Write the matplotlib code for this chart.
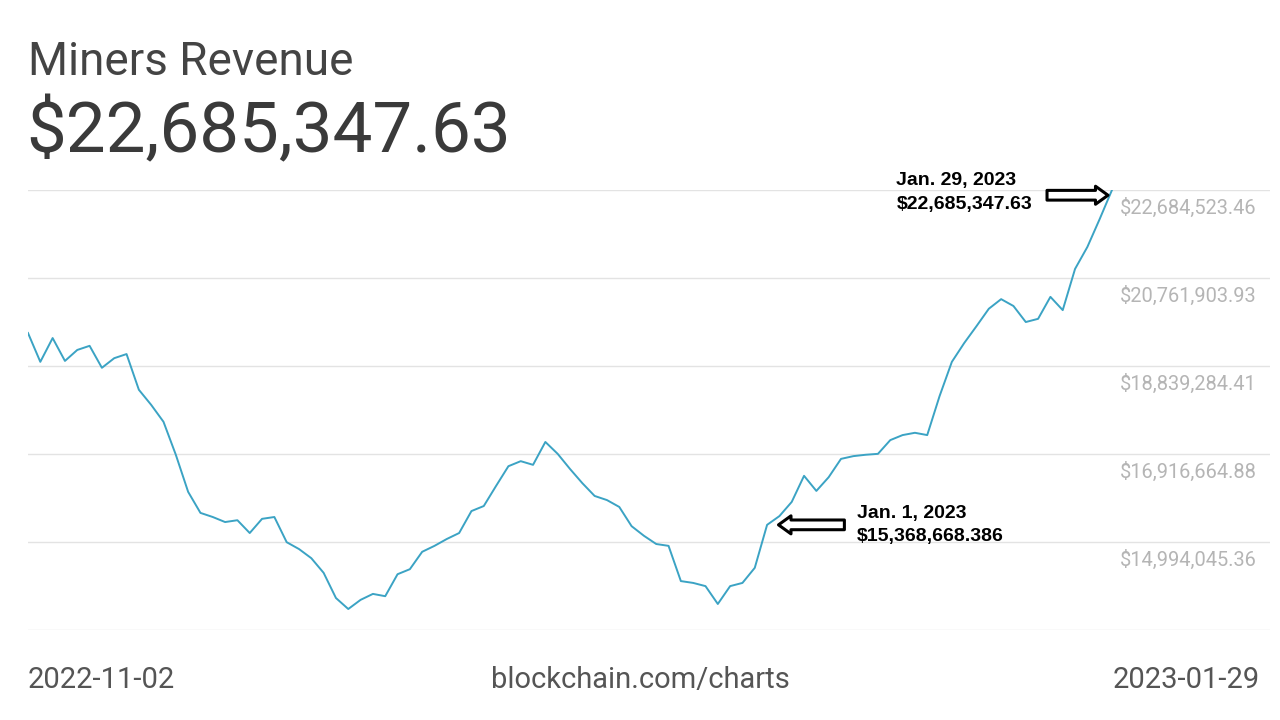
import matplotlib
matplotlib.use("Agg")
import matplotlib.pyplot as plt
import numpy as np
import pandas as pd

start_date = "2022-11-02"
end_date = "2023-01-29"
title = "Miners Revenue"
headline = "$22,685,347.63"
source = "blockchain.com/charts"
# revenue in millions USD, daily
revenue = [19.56, 18.93, 19.45, 18.95, 19.19, 19.28, 18.80, 19.01, 19.10, 18.32,
           17.99, 17.62, 16.90, 16.09, 15.63, 15.54, 15.43, 15.47, 15.19, 15.50,
           15.54, 14.99, 14.84, 14.64, 14.32, 13.77, 13.53, 13.73, 13.86, 13.81,
           14.29, 14.40, 14.78, 14.91, 15.06, 15.19, 15.67, 15.78, 16.22, 16.65,
           16.76, 16.68, 17.18, 16.92, 16.59, 16.28, 16.00, 15.91, 15.76, 15.34,
           15.13, 14.95, 14.91, 14.14, 14.10, 14.03, 13.64, 14.03, 14.10, 14.43,
           15.368668386, 15.56, 15.87, 16.44, 16.11, 16.41, 16.81, 16.87, 16.90, 16.92,
           17.22, 17.33, 17.38, 17.33, 18.18, 18.93, 19.34, 19.71, 20.09, 20.30,
           20.15, 19.80, 19.87, 20.35, 20.06, 20.96, 21.44, 22.05, 22.68534763]
tick_values = [22684523.46, 20761903.93, 18839284.41, 16916664.88, 14994045.36]
ann_labels = [("Jan. 1, 2023\n$15,368,668.386", "2023-01-01"),
              ("Jan. 29, 2023\n$22,685,347.63", "2023-01-29")]

dates = pd.date_range(start_date, periods=len(revenue), freq="D")
x = np.arange(len(revenue))
y = np.array(revenue) * 1e6

fig = plt.figure(figsize=(12.8, 7.2), dpi=100)
ax = fig.add_axes([28/1280, 1-630/720, (1270-28)/1280, (630-190)/720])
n = len(revenue) - 1
ax.set_xlim(0, n * (1270-28) / (1112-28))
step = tick_values[0] - tick_values[1]
ax.set_ylim(tick_values[-1] - step, tick_values[0])
for v in tick_values + [tick_values[-1] - step]:
    ax.axhline(v, color="#e3e3e3", lw=1, zorder=0)
ax.plot(x, y, color="#3ba3c4", lw=1.4, zorder=3)
for v in tick_values:
    ax.text(n * (1120-28) / (1112-28), v - step*0.2, f"${v:,.2f}", color="#b5b5b5",
            fontsize=14.4, va="center", ha="left", family="Roboto")
for s in ax.spines.values():
    s.set_visible(False)
ax.set_xticks([]); ax.set_yticks([])

fig.text(28/1280, 1-62/720, title, fontsize=33, color="#444", va="center", family="Roboto")
fig.text(26/1280, 1-132/720, headline, fontsize=51, color="#3a3a3a", va="center", family="Roboto")
fig.text(28/1280, 1-680/720, dates[0].strftime("%Y-%m-%d"), fontsize=21, color="#555", va="center", family="Roboto")
fig.text(0.5, 1-680/720, source, fontsize=21, color="#555", va="center", ha="center", family="Roboto")
fig.text(1260/1280, 1-680/720, dates[-1].strftime("%Y-%m-%d"), fontsize=21, color="#555", va="center", ha="right", family="Roboto")

arrow = dict(arrowstyle="simple,head_length=0.9,head_width=1.3,tail_width=0.7",
             fc="white", ec="black", lw=2.2)
# Jan 1
i1 = list(dates).index(pd.Timestamp(ann_labels[0][1]))
ax.annotate("", xy=(i1 + 0.7, y[i1]), xytext=(i1 + 6.5, y[i1]), arrowprops=arrow, zorder=5)
ax.text(i1 + 7.3, y[i1], ann_labels[0][0], fontsize=14, fontweight="bold",
        va="center", ha="left", linespacing=1.5, family="Liberation Sans")
# Jan 29
i2 = list(dates).index(pd.Timestamp(ann_labels[1][1]))
ax.annotate("", xy=(i2 - 0.1, y[i2] - step*0.06), xytext=(i2 - 5.5, y[i2] - step*0.06),
            arrowprops=arrow, zorder=5, annotation_clip=False)
ax.text(i2 - 17.5, y[i2] - step*0.03, ann_labels[1][0], fontsize=14, fontweight="bold",
        va="center", ha="left", linespacing=1.5, family="Liberation Sans")

fig.savefig("out.png", dpi=100, facecolor="white")
